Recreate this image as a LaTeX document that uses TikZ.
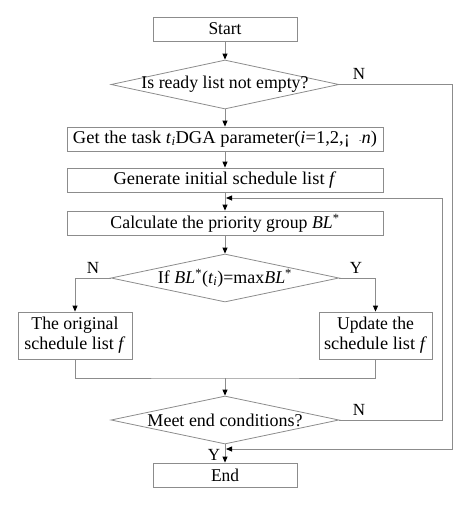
\documentclass[tikz,border=0pt]{standalone}
\usepackage{fontspec}
\usepackage{graphicx}
\setmainfont{Liberation Serif}
\usetikzlibrary{shapes.geometric,arrows.meta}
\newcommand{\fitw}[2]{\resizebox{#1}{\height}{#2}}
\begin{document}
\begin{tikzpicture}[x=1pt,y=-1pt,
  ln/.style={draw=black!45, line width=0.8pt},
  arr/.style={ln, -{Triangle[black, length=6pt, width=5pt]}},
  box/.style={draw=black!45, line width=0.8pt, rectangle, inner sep=0pt, font=\fontsize{18}{20}\selectfont},
  dia/.style={draw=black!45, line width=0.8pt, diamond, inner sep=0pt, minimum width=228pt, minimum height=49pt, font=\fontsize{18}{20}\selectfont},
  lbl/.style={font=\fontsize{17}{18}\selectfont, inner sep=0pt}]
\useasboundingbox (0,0) rectangle (474,506);
\node[box, minimum width=144pt, minimum height=24pt] (start) at (225,29) {\fitw{33pt}{Start}};
\node[dia] (d1) at (225,84.5) {\makebox[0pt]{\fitw{167pt}{Is ready list not empty?}}};
\node[box, minimum width=316pt, minimum height=24pt] (get) at (225,139) {\fitw{304pt}{Get the task \textit{t}\textsubscript{\textit{i}}DGA parameter(\textit{i}=1,2,¡\enspace\raisebox{1pt}{\scriptsize -}\textit{n})}};
\node[box, minimum width=316pt, minimum height=24pt] (gen) at (225,180) {\fitw{223pt}{Generate initial schedule list \textit{f}}};
\node[box, minimum width=316pt, minimum height=24pt] (calc) at (225,223) {\fitw{229pt}{Calculate the priority group \textit{BL}\textsuperscript{*}}};
\node[dia, minimum height=48pt] (d2) at (225,278) {\makebox[0pt]{\fitw{134pt}{If \textit{BL}\textsuperscript{*}(\textit{t}\textsubscript{\textit{i}})=max\textit{BL}\textsuperscript{*}}}};
\node[box, minimum width=114pt, minimum height=47pt, align=center] (orig) at (75,335.5) {\fitw{87pt}{The original}\\\fitw{101pt}{schedule list \textit{f}}};
\node[box, minimum width=113pt, minimum height=47pt, align=center] (upd) at (375.5,335.5) {\fitw{77pt}{Update the}\\\fitw{103pt}{schedule list \textit{f}}};
\node[dia, minimum height=48pt] (d3) at (225,420) {\makebox[0pt]{\fitw{155pt}{Meet end conditions?}}};
\node[box, minimum width=144pt, minimum height=24pt] (end) at (225,475) {\fitw{28pt}{End}};
% coordinates
\coordinate (fb) at (226,198);
\coordinate (fbin) at (226,449);
\coordinate (j) at (225,378);
% labels
\node[lbl] (n1) at (359,74) {N};
\node[lbl] (n2) at (93,268) {N};
\node[lbl] (y2) at (356,268) {Y};
\node[lbl] (n3) at (359,410) {N};
\node[lbl] (y3) at (214,455) {Y};
% connectors
\draw[arr] (start) -- (d1);
\draw[arr] (d1) -- (get);
\draw[arr] (get) -- (gen);
\draw[arr] (gen) -- (calc);
\draw[arr] (calc) -- (d2);
\draw[arr] (d2.west) -| (orig.north);
\draw[arr] (d2.east) -| (upd.north);
\draw[ln] (orig.south) |- (j) -| (upd.south);
\draw[arr] (j) -- (d3.north);
\draw[arr] (d3.east) -- (442,420) |- (fb);
\draw[arr] (d1.east) -- (452,84.5) |- (fbin);
\draw[arr] (d3.south) -- (end.north);
\end{tikzpicture}
\end{document}
